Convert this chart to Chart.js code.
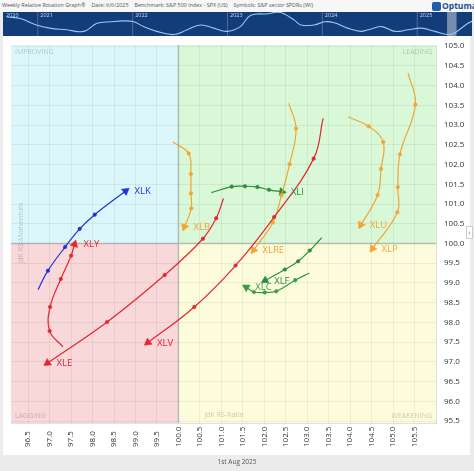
<!DOCTYPE html>
<html lang="en">
<head>
<meta charset="UTF-8">
<title>Weekly Relative Rotation Graph</title>
<script src="https://cdn.jsdelivr.net/npm/chart.js"></script>
<style>
  html, body { margin: 0; padding: 0; }
  body { width: 474px; height: 471px; overflow: hidden; position: relative; background: #ececec; font-family: "Open Sans", sans-serif; }
  #topbar { position: absolute; left: 0; top: 0; width: 474px; height: 12px; background: #f7f7f7; }
  #hdr { position: absolute; left: 2px; top: 1px; font-size: 5.4px; line-height: 9px; color: #555; white-space: nowrap; }
  #hdr span { margin-right: 6px; }
  #logo { position: absolute; left: 432px; top: 2px; width: 9px; height: 9px; background: #1f5fa6; border-radius: 2px; }
  #logoText { position: absolute; left: 442px; top: 0px; font-size: 8.5px; line-height: 12px; font-weight: bold; color: #1d4f8e; }
  #band { position: absolute; left: 3px; top: 12px; width: 469px; height: 24px; background: #123d78; }
  #panel { position: absolute; left: 3px; top: 36px; width: 467px; height: 419px; background: #fff; }
  #tab { position: absolute; left: 466px; top: 226px; width: 5px; height: 11px; border: 1px solid #ccc; background: #fff; font-size: 7px; line-height: 11px; color: #666; text-align: center; }
  #main { position: absolute; left: 0; top: 0; }
  #footer { position: absolute; left: 0; top: 457px; width: 474px; text-align: center; font-size: 6.5px; color: #555; }
</style>
</head>
<body>

<div id="topbar">
  <div id="hdr"><span>Weekly Relative Rotation Graph®</span><span>Date: 6/6/2025</span><span>Benchmark: S&amp;P 500 Index - SPX (US)</span><span>Symbols: S&amp;P sector SPDRs (WI)</span></div>
  <div id="logo"></div>
  <span id="logoText">Optuma</span>
</div>
<div id="band"><canvas id="mini" width="469" height="24"></canvas></div>
<div id="panel"></div>
<div id="tab">‹</div>
<canvas id="main" width="474" height="471"></canvas>
<div id="footer">1st Aug 2025</div>

<script>
  // tails: JdK RS-Ratio (x) and JdK RS-Momentum (y), oldest week first
  const XLK_RATIO = [96.73, 96.96, 97.36, 97.70, 98.05, 98.77];
  const XLK_MOM   = [98.83, 99.31, 99.91, 100.37, 100.73, 101.33];
  const XLY_RATIO = [97.31, 97.00, 97.01, 97.26, 97.50, 97.58];
  const XLY_MOM   = [97.38, 97.78, 98.39, 99.10, 99.69, 99.98];
  const XLE_RATIO = [101.05, 100.88, 100.57, 99.68, 98.34, 96.95];
  const XLE_MOM   = [101.14, 100.64, 100.12, 99.20, 98.01, 96.97];
  const XLV_RATIO = [103.37, 103.15, 102.23, 101.33, 100.37, 99.29];
  const XLV_MOM   = [103.17, 102.15, 100.67, 99.44, 98.39, 97.49];
  const XLB_RATIO = [99.87, 100.24, 100.29, 100.29, 100.30, 100.14];
  const XLB_MOM   = [102.57, 102.28, 101.76, 101.27, 100.89, 100.42];
  const XLI_RATIO = [100.77, 101.24, 101.55, 101.84, 102.11, 102.41];
  const XLI_MOM   = [101.29, 101.44, 101.45, 101.43, 101.36, 101.31];
  const XLRE_RATIO = [102.57, 102.74, 102.59, 102.40, 102.20, 101.75];
  const XLRE_MOM   = [103.55, 102.91, 102.01, 101.22, 100.53, 99.83];
  const XLU_RATIO = [103.95, 104.43, 104.77, 104.72, 104.64, 104.25];
  const XLU_MOM   = [103.21, 102.97, 102.57, 101.89, 101.23, 100.47];
  const XLP_RATIO = [105.35, 105.52, 105.16, 105.11, 105.10, 104.52];
  const XLP_MOM   = [104.32, 103.52, 102.26, 101.43, 100.79, 99.87];
  const XLF_RATIO = [103.34, 103.06, 102.79, 102.48, 102.02];
  const XLF_MOM   = [100.15, 99.82, 99.55, 99.34, 99.06];
  const XLC_RATIO = [103.05, 102.72, 102.28, 102.01, 101.76, 101.58];
  const XLC_MOM   = [99.25, 99.07, 98.79, 98.76, 98.77, 98.89];

  const X_TICKS = [96.5, 97.0, 97.5, 98.0, 98.5, 99.0, 99.5, 100.0, 100.5, 101.0, 101.5, 102.0, 102.5, 103.0, 103.5, 104.0, 104.5, 105.0, 105.5];
  const Y_TICKS = [95.5, 96.0, 96.5, 97.0, 97.5, 98.0, 98.5, 99.0, 99.5, 100.0, 100.5, 101.0, 101.5, 102.0, 102.5, 103.0, 103.5, 104.0, 104.5, 105.0];

  // benchmark strip at the top
  const MINI_YEARS = [2020.68, 2020.82, 2020.99, 2021.13, 2021.31, 2021.49, 2021.63, 2021.77, 2021.91, 2022.02, 2022.12, 2022.26, 2022.44, 2022.58, 2022.72, 2022.86, 2023.00, 2023.14, 2023.25, 2023.43, 2023.53, 2023.60, 2023.71, 2023.78, 2023.92, 2024.03, 2024.13, 2024.27, 2024.41, 2024.49, 2024.63, 2024.77, 2024.91, 2025.05, 2025.19, 2025.33, 2025.40, 2025.54, 2025.61];
  const MINI_VALUES = [19.3, 17.7, 11, 7.7, 6, 4.3, 12.7, 14.3, 15.3, 14.3, 9.3, 4.3, 1, 6, 11, 7.7, 4.3, 9.3, 21, 22.7, 24.3, 22.7, 16, 11, 11, 14.3, 13.3, 7.7, 4.3, 6, 9.3, 4.3, 6, 7.7, 4.3, 1, 2.7, 12.7, 16];
  const YEAR_LABELS = [2020, 2021, 2022, 2023, 2024, 2025];
  const HIGHLIGHT = [2025.32, 2025.42];

  const FONT = '"Open Sans", sans-serif';
  const BLUE = '#1f33d2', RED = '#e3262f', ORANGE = '#f2a534', GREEN = '#2d8c3a', GREEN2 = '#3a9a48';

  const series = [
    ['XLK', XLK_RATIO, XLK_MOM, BLUE],
    ['XLY', XLY_RATIO, XLY_MOM, RED],
    ['XLE', XLE_RATIO, XLE_MOM, RED],
    ['XLV', XLV_RATIO, XLV_MOM, RED],
    ['XLB', XLB_RATIO, XLB_MOM, ORANGE],
    ['XLRE', XLRE_RATIO, XLRE_MOM, ORANGE],
    ['XLU', XLU_RATIO, XLU_MOM, ORANGE],
    ['XLP', XLP_RATIO, XLP_MOM, ORANGE],
    ['XLI', XLI_RATIO, XLI_MOM, GREEN],
    ['XLF', XLF_RATIO, XLF_MOM, GREEN],
    ['XLC', XLC_RATIO, XLC_MOM, GREEN2]
  ];

  function arrowAngle(ctx) {
    const d = ctx.dataset.data, i = ctx.dataIndex;
    if (i === 0) return 0;
    const s = ctx.chart.scales;
    const dx = s.x.getPixelForValue(d[i].x) - s.x.getPixelForValue(d[i - 1].x);
    const dy = s.y.getPixelForValue(d[i].y) - s.y.getPixelForValue(d[i - 1].y);
    return Math.atan2(dx, -dy) * 180 / Math.PI;
  }

  const datasets = series.map(([name, rx, my, col]) => {
    const n = rx.length;
    return {
      label: name,
      data: rx.map((v, i) => ({ x: v, y: my[i] })),
      showLine: true,
      tension: 0.4,
      borderColor: col,
      borderWidth: 1.2,
      pointBackgroundColor: col,
      pointBorderColor: col,
      pointBorderWidth: 0.5,
      pointRadius: rx.map((v, i) => i === 0 ? 0 : (i === n - 1 ? 4.5 : 1.8)),
      pointStyle: rx.map((v, i) => i === n - 1 ? 'triangle' : 'circle'),
      rotation: arrowAngle
    };
  });

  // quadrant fills
  const quadrants = {
    id: 'quadrants',
    beforeDraw(chart) {
      const { ctx, chartArea: a, scales: { x, y } } = chart;
      const cx = x.getPixelForValue(100), cy = y.getPixelForValue(100);
      ctx.save();
      ctx.fillStyle = '#dbf7fb'; ctx.fillRect(a.left, a.top, cx - a.left, cy - a.top);
      ctx.fillStyle = '#d9f8d7'; ctx.fillRect(cx, a.top, a.right - cx, cy - a.top);
      ctx.fillStyle = '#f9d8da'; ctx.fillRect(a.left, cy, cx - a.left, a.bottom - cy);
      ctx.fillStyle = '#fcfcdc'; ctx.fillRect(cx, cy, a.right - cx, a.bottom - cy);
      ctx.restore();
    },
    beforeDatasetsDraw(chart) {
      const { ctx, chartArea: a, scales: { x, y } } = chart;
      const cx = x.getPixelForValue(100), cy = y.getPixelForValue(100);
      ctx.save();
      ctx.strokeStyle = 'rgba(120,130,130,0.45)';
      ctx.lineWidth = 1.5;
      ctx.beginPath();
      ctx.moveTo(cx, a.top); ctx.lineTo(cx, a.bottom);
      ctx.moveTo(a.left, cy); ctx.lineTo(a.right, cy);
      ctx.stroke();

      ctx.fillStyle = 'rgba(0,0,0,0.22)';
      ctx.font = '7px ' + FONT;
      ctx.textBaseline = 'middle';
      ctx.textAlign = 'left';
      ctx.fillText('IMPROVING', a.left + 4, a.top + 7);
      ctx.fillText('LAGGING', a.left + 4, a.bottom - 7);
      ctx.fillText('JdK RS-Ratio', cx + 26, a.bottom - 8);
      ctx.textAlign = 'right';
      ctx.fillText('LEADING', a.right - 4, a.top + 7);
      ctx.fillText('WEAKENING', a.right - 4, a.bottom - 7);
      ctx.translate(a.left + 10, 233);
      ctx.rotate(-Math.PI / 2);
      ctx.textAlign = 'center';
      ctx.fillText('JdK RS-Momentum', 0, 0);
      ctx.restore();
    },
    afterDatasetsDraw(chart) {
      const ctx = chart.ctx;
      ctx.save();
      ctx.font = '9.5px ' + FONT;
      ctx.textBaseline = 'middle';
      ctx.textAlign = 'left';
      chart.data.datasets.forEach((ds, i) => {
        const pts = chart.getDatasetMeta(i).data;
        const p = pts[pts.length - 1];
        ctx.fillStyle = ds.borderColor;
        ctx.fillText(ds.label, p.x + 9, p.y + 0.5);
      });
      ctx.restore();
    },
    afterDraw(chart) {
      const { ctx, scales: { x } } = chart;
      ctx.save();
      ctx.font = '8px ' + FONT;
      ctx.fillStyle = '#333';
      ctx.textAlign = 'left';
      ctx.textBaseline = 'middle';
      X_TICKS.forEach(v => {
        ctx.save();
        ctx.translate(x.getPixelForValue(v), 447);
        ctx.rotate(-Math.PI / 2);
        ctx.fillText(v.toFixed(1), 0, 0);
        ctx.restore();
      });
      ctx.restore();
    }
  };

  new Chart(document.getElementById('main'), {
    type: 'scatter',
    data: { datasets },
    options: {
      responsive: false,
      animation: false,
      layout: { padding: { top: 45, left: 11, right: 0, bottom: 15 } },
      plugins: { legend: { display: false }, tooltip: { enabled: false } },
      scales: {
        x: {
          type: 'linear', min: 96.1, max: 106.0,
          afterBuildTicks: s => { s.ticks = X_TICKS.map(v => ({ value: v })); },
          afterFit: s => { s.height = 33; },
          grid: { color: 'rgba(0,0,0,0.06)', drawTicks: false },
          border: { color: 'rgba(0,0,0,0.12)' },
          ticks: { display: false }
        },
        y: {
          type: 'linear', position: 'right', min: 95.45, max: 105.03,
          afterBuildTicks: s => { s.ticks = Y_TICKS.map(v => ({ value: v })); },
          afterFit: s => { s.width = 38; },
          grid: { color: 'rgba(0,0,0,0.06)', drawTicks: false },
          border: { color: 'rgba(0,0,0,0.12)' },
          ticks: { padding: 8, color: '#333', font: { family: FONT, size: 8 }, callback: v => v.toFixed(1) }
        }
      }
    },
    plugins: [quadrants]
  });

  // year separators and highlight for the strip
  const stripDecor = {
    id: 'stripDecor',
    beforeDatasetsDraw(chart) {
      const { ctx, chartArea: a, scales: { x } } = chart;
      ctx.save();
      ctx.fillStyle = 'rgba(185,195,212,0.6)';
      const h0 = x.getPixelForValue(HIGHLIGHT[0]), h1 = x.getPixelForValue(HIGHLIGHT[1]);
      ctx.fillRect(h0, a.top, h1 - h0, a.bottom - a.top);
      ctx.strokeStyle = 'rgba(255,255,255,0.25)';
      ctx.lineWidth = 1;
      ctx.font = '5.5px ' + FONT;
      ctx.fillStyle = '#d3dced';
      ctx.textBaseline = 'top';
      YEAR_LABELS.forEach(yr => {
        const px = x.getPixelForValue(yr);
        if (px > a.left) {
          ctx.beginPath(); ctx.moveTo(px + 0.5, a.top); ctx.lineTo(px + 0.5, a.bottom); ctx.stroke();
        }
        ctx.fillText(String(yr), Math.max(px, a.left) + 3, 1);
      });
      ctx.restore();
    }
  };

  new Chart(document.getElementById('mini'), {
    type: 'line',
    data: {
      datasets: [{
        data: MINI_YEARS.map((v, i) => ({ x: v, y: MINI_VALUES[i] })),
        borderColor: '#9cc7f0',
        borderWidth: 1.1,
        pointRadius: 0,
        tension: 0.4
      }]
    },
    options: {
      responsive: false,
      animation: false,
      layout: { padding: 0 },
      plugins: { legend: { display: false }, tooltip: { enabled: false } },
      scales: {
        x: { type: 'linear', display: false, min: 2020.638, max: 2025.583 },
        y: { display: false, min: -0.5, max: 24.5 }
      }
    },
    plugins: [stripDecor]
  });
</script>

</body>
</html>
